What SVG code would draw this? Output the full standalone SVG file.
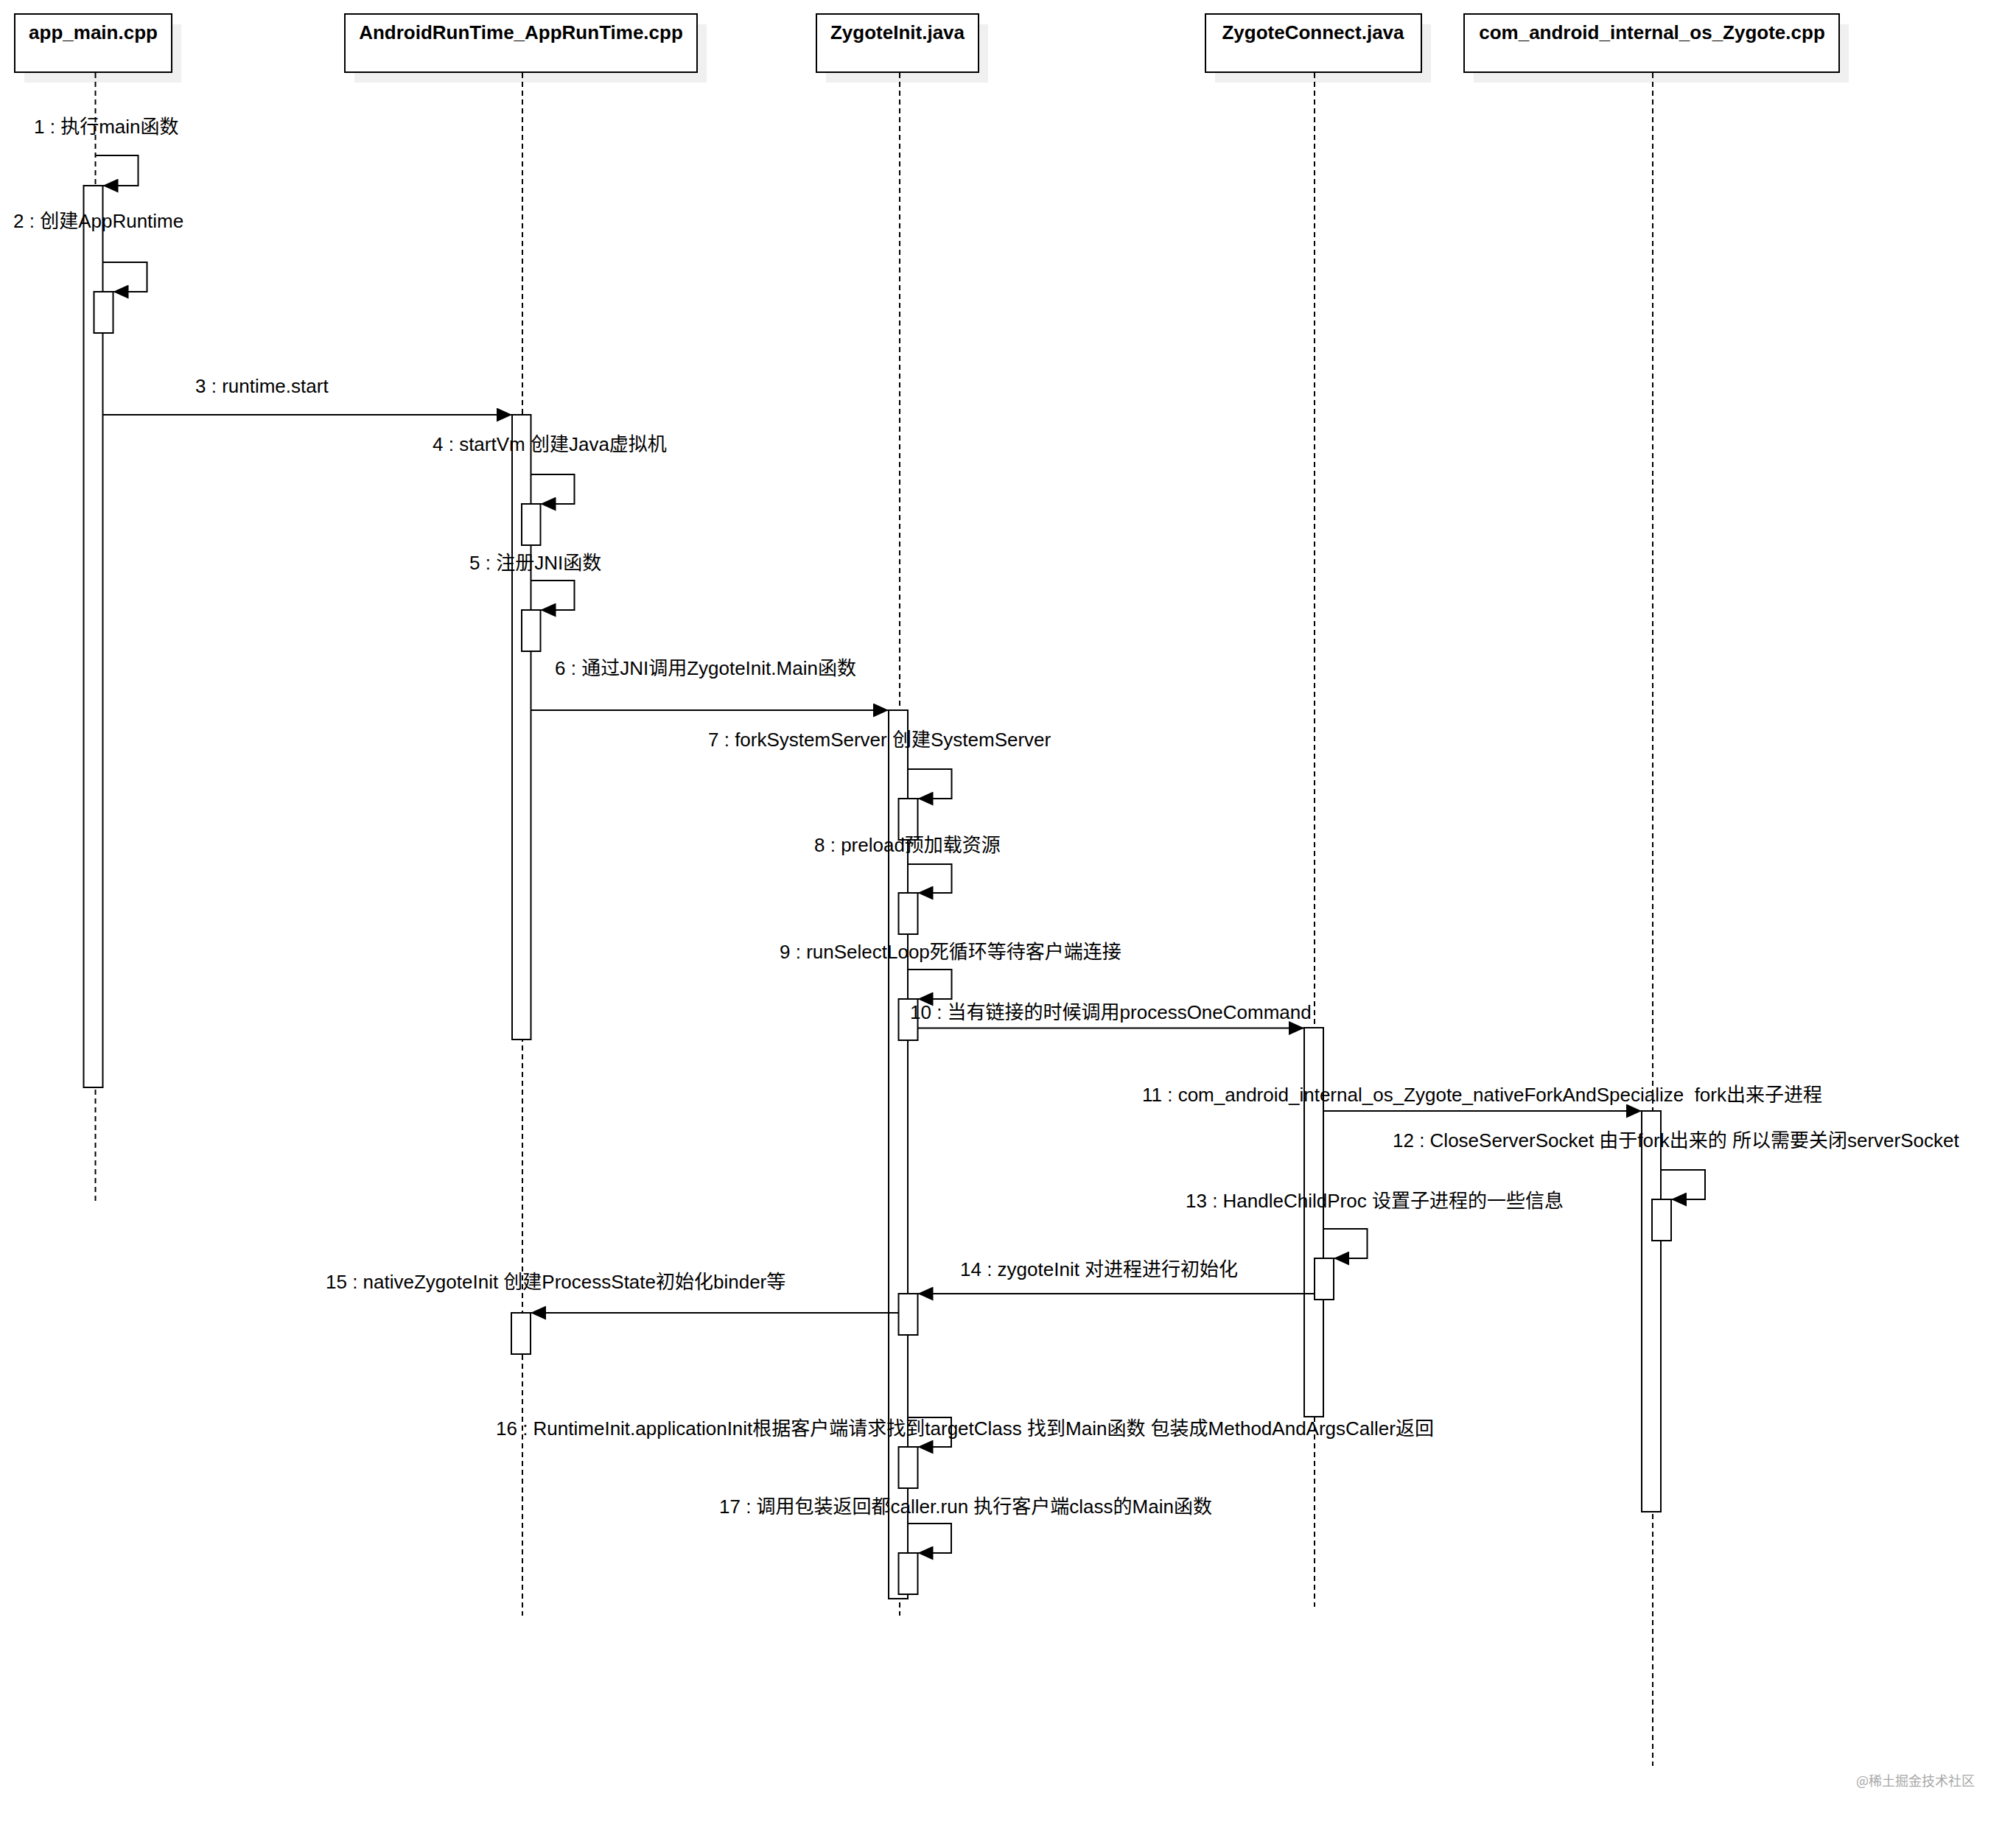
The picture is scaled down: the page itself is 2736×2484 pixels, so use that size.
<svg xmlns="http://www.w3.org/2000/svg" width="2736" height="2484" viewBox="0 0 2736 2484">
<style>
.bg{fill:#ffffff}
.shadow{fill:#f0f0f0;stroke:none}
.box{fill:#ffffff;stroke:#000000;stroke-width:2}
.title{font-family:"Liberation Sans","Noto Sans CJK SC",sans-serif;font-weight:bold;font-size:26px;text-anchor:middle;fill:#000000}
.life{fill:none;stroke:#000000;stroke-width:2;stroke-dasharray:7 5}
.act{fill:#ffffff;stroke:#000000;stroke-width:2}
.msg{fill:none;stroke:#000000;stroke-width:2;marker-end:url(#arrow)}
.lbl{font-family:"Liberation Sans","Noto Sans CJK SC",sans-serif;font-size:26px;fill:#000000}
.wm{font-family:"Noto Sans CJK SC",sans-serif;font-size:18px;fill:#a8a8a8}
</style>
<defs>
<marker id="arrow" viewBox="0 0 21 19" refX="21" refY="9.5" markerWidth="21" markerHeight="19" markerUnits="userSpaceOnUse" orient="auto">
<path d="M0,0 L21,9.5 L0,19 Z" fill="#000000"/>
</marker>
</defs>
<rect class="bg" x="0" y="0" width="2736" height="2484"/>

<g id="app_main">
<rect class="shadow" x="33" y="33" width="213" height="79"/>
<rect class="box" x="20" y="19" width="213" height="79"/>
<text class="title" x="126.5" y="53">app_main.cpp</text>
<line class="life" x1="129.5" y1="99" x2="129.5" y2="1630"/>
<rect class="act" x="113.5" y="252" width="26" height="1224"/>
<rect class="act" x="127.5" y="396" width="26" height="56"/>
</g>

<g id="AndroidRunTime">
<rect class="shadow" x="481" y="33" width="478" height="79"/>
<rect class="box" x="468" y="19" width="478" height="79"/>
<text class="title" x="707" y="53">AndroidRunTime_AppRunTime.cpp</text>
<line class="life" x1="709" y1="99" x2="709" y2="2193"/>
<rect class="act" x="695" y="563" width="25.5" height="848"/>
<rect class="act" x="708" y="684" width="25.5" height="56"/>
<rect class="act" x="708" y="828" width="25.5" height="56"/>
<rect class="act" x="694" y="1782" width="26" height="56"/>
</g>

<g id="ZygoteInit">
<rect class="shadow" x="1121" y="33" width="220" height="79"/>
<rect class="box" x="1108" y="19" width="220" height="79"/>
<text class="title" x="1218" y="53">ZygoteInit.java</text>
<line class="life" x1="1221" y1="99" x2="1221" y2="2193"/>
<rect class="act" x="1206" y="964" width="26" height="1206"/>
<rect class="act" x="1219.5" y="1084" width="26" height="56"/>
<rect class="act" x="1219.5" y="1212" width="26" height="56"/>
<rect class="act" x="1219.5" y="1356" width="26" height="56"/>
<rect class="act" x="1219.5" y="1756" width="26" height="56"/>
<rect class="act" x="1219.5" y="1964" width="26" height="56"/>
<rect class="act" x="1219.5" y="2108" width="26" height="56"/>
</g>

<g id="ZygoteConnect">
<rect class="shadow" x="1649" y="33" width="293" height="79"/>
<rect class="box" x="1636" y="19" width="293" height="79"/>
<text class="title" x="1782" y="53">ZygoteConnect.java</text>
<line class="life" x1="1784" y1="99" x2="1784" y2="2181"/>
<rect class="act" x="1770" y="1395" width="26" height="528"/>
<rect class="act" x="1784" y="1708" width="26" height="56"/>
</g>

<g id="com_android_internal_os_Zygote">
<rect class="shadow" x="2000" y="33" width="509" height="79"/>
<rect class="box" x="1987" y="19" width="509" height="79"/>
<text class="title" x="2242" y="53">com_android_internal_os_Zygote.cpp</text>
<line class="life" x1="2243" y1="99" x2="2243" y2="2397"/>
<rect class="act" x="2228" y="1508" width="26" height="544"/>
<rect class="act" x="2242" y="1628" width="26" height="56"/>
</g>

<g id="connectors">
<path class="msg" d="M129.5,211 H187.5 V252 H139.5"/>
<path class="msg" d="M139.5,356 H199.5 V396 H153.5"/>
<path class="msg" d="M139.5,563 H695"/>
<path class="msg" d="M720.5,644 H779.5 V684 H733.5"/>
<path class="msg" d="M720.5,788 H779.5 V828 H733.5"/>
<path class="msg" d="M720.5,964 H1206"/>
<path class="msg" d="M1232,1044 H1291.5 V1084 H1245.5"/>
<path class="msg" d="M1232,1173 H1291.5 V1212 H1245.5"/>
<path class="msg" d="M1232,1316 H1291.5 V1356 H1245.5"/>
<path class="msg" d="M1245.5,1395.5 H1770"/>
<path class="msg" d="M1796,1508 H2228"/>
<path class="msg" d="M2254,1588 H2314 V1628 H2268"/>
<path class="msg" d="M1796,1668 H1855.5 V1708 H1810"/>
<path class="msg" d="M1784,1756 H1245.5"/>
<path class="msg" d="M1219.5,1782 H720"/>
<path class="msg" d="M1232,1924 H1291 V1964 H1245.5"/>
<path class="msg" d="M1232,2068 H1291 V2108 H1245.5"/>

<text class="lbl" x="46" y="181">1 : 执行main函数</text>
<text class="lbl" x="18" y="309">2 : 创建AppRuntime</text>
<text class="lbl" x="265" y="533">3 : runtime.start</text>
<text class="lbl" x="587" y="612">4 : startVm 创建Java虚拟机</text>
<text class="lbl" x="637" y="773">5 : 注册JNI函数</text>
<text class="lbl" x="753" y="916">6 : 通过JNI调用ZygoteInit.Main函数</text>
<text class="lbl" x="961" y="1013">7 : forkSystemServer 创建SystemServer</text>
<text class="lbl" x="1105" y="1156">8 : preload预加载资源</text>
<text class="lbl" x="1058" y="1301">9 : runSelectLoop死循环等待客户端连接</text>
<text class="lbl" x="1235" y="1383">10 : 当有链接的时候调用processOneCommand</text>
<text class="lbl" x="1550" y="1495" xml:space="preserve">11 : com_android_internal_os_Zygote_nativeForkAndSpecialize  fork出来子进程</text>
<text class="lbl" x="1890" y="1557">12 : CloseServerSocket 由于fork出来的 所以需要关闭serverSocket</text>
<text class="lbl" x="1609" y="1639">13 : HandleChildProc 设置子进程的一些信息</text>
<text class="lbl" x="1303" y="1732">14 : zygoteInit 对进程进行初始化</text>
<text class="lbl" x="442" y="1749">15 : nativeZygoteInit 创建ProcessState初始化binder等</text>
<text class="lbl" x="673" y="1948">16 : RuntimeInit.applicationInit根据客户端请求找到targetClass 找到Main函数 包装成MethodAndArgsCaller返回</text>
<text class="lbl" x="976" y="2054">17 : 调用包装返回都caller.run 执行客户端class的Main函数</text>
</g>

<text class="wm" x="2519" y="2424">@稀土掘金技术社区</text>
</svg>
